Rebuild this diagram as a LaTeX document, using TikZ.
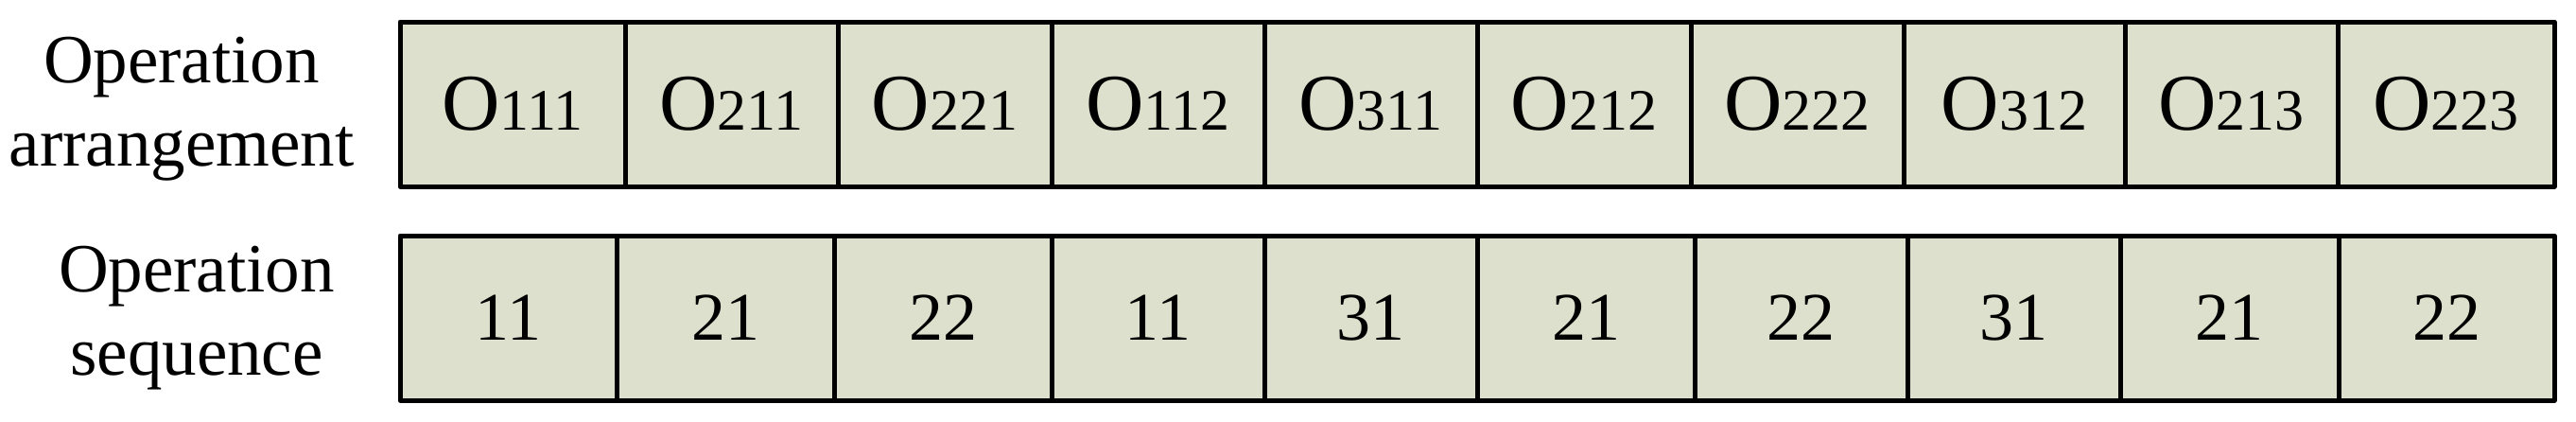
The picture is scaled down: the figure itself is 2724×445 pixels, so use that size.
\documentclass[tikz,border=0pt]{standalone}
\usepackage{fontspec}
\setmainfont{Liberation Serif}
\definecolor{cellfill}{RGB}{221,224,204}
\tikzset{
  cell/.style={draw=black, fill=cellfill, line width=5pt, line join=round, inner sep=0pt, outer sep=0pt, minimum height=174pt, font=\fontsize{72}{72}\selectfont},
  rowlabel/.style={align=center, inner sep=0pt, anchor=base, font=\fontsize{73}{88}\selectfont},
}
\newcommand{\opsub}[1]{O{\fontsize{62}{62}\selectfont #1}}
\begin{document}
\begin{tikzpicture}[x=1pt,y=-1pt]
\useasboundingbox (0,0) rectangle (2724,445);
% labels (anchor at the baseline of the last line)
\node[rowlabel] (labA) at (192,175) {Operation\\arrangement};
\node[rowlabel] (labB) at (208,396) {Operation\\sequence};
% top row
\begin{scope}[every node/.append style={cell, font=\fontsize{85}{85}\selectfont}]
\node[minimum width=238pt] (a1) at (542,110) {\opsub{111}};
\node[minimum width=225pt] (a2) at (773.5,110) {\opsub{211}};
\node[minimum width=226pt] (a3) at (999,110) {\opsub{221}};
\node[minimum width=225pt] (a4) at (1224.5,110) {\opsub{112}};
\node[minimum width=225pt] (a5) at (1449.5,110) {\opsub{311}};
\node[minimum width=226pt] (a6) at (1675,110) {\opsub{212}};
\node[minimum width=225pt] (a7) at (1900.5,110) {\opsub{222}};
\node[minimum width=234pt] (a8) at (2130,110) {\opsub{312}};
\node[minimum width=225pt] (a9) at (2359.5,110) {\opsub{213}};
\node[minimum width=229pt] (a10) at (2586.5,110) {\opsub{223}};
\end{scope}
% bottom row
\begin{scope}[every node/.append style={cell}]
\node[minimum width=229pt] (b1) at (537.5,336) {11};
\node[minimum width=230pt] (b2) at (767,336) {21};
\node[minimum width=230pt] (b3) at (997,336) {22};
\node[minimum width=225pt] (b4) at (1224.5,336) {11};
\node[minimum width=225pt] (b5) at (1449.5,336) {31};
\node[minimum width=230pt] (b6) at (1677,336) {21};
\node[minimum width=225pt] (b7) at (1904.5,336) {22};
\node[minimum width=225pt] (b8) at (2129.5,336) {31};
\node[minimum width=231pt] (b9) at (2357.5,336) {21};
\node[minimum width=228pt] (b10) at (2587,336) {22};
\end{scope}
\end{tikzpicture}
\end{document}
